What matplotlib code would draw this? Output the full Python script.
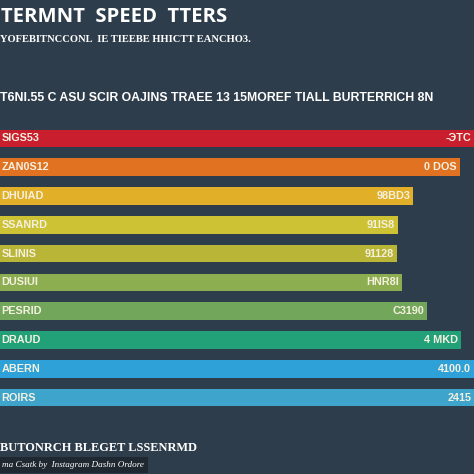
import matplotlib.pyplot as plt

# bar data (values on a 0-100 scale, top to bottom)
names = ["SIGS53", "ZAN0S12", "DHUIAD", "SSANRD", "SLINIS",
         "DUSIUI", "PESRID", "DRAUD", "ABERN", "ROIRS"]
values = [102, 97.0, 87.1, 84.0, 83.8, 84.8, 90.1, 97.3, 102, 102]
value_labels = ["-ЭTC", "0 DOS", "98BD3", "91IS8", "91128",
                "HNR8I", "C3190", "4 MKD", "4100.0", "2415"]
colors = ["#c81e2d", "#e07222", "#e2b028", "#cdc234", "#b9b536",
          "#8cae50", "#72a65a", "#22a078", "#2ea2d8", "#3ea4cc"]

bg = "#2e3d4b"

fig = plt.figure(figsize=(4.74, 4.74), dpi=100)
fig.patch.set_facecolor(bg)

ax = fig.add_axes([0, 0.1308, 1, 0.6076])
ax.set_facecolor(bg)
ypos = list(range(len(values)))
ax.barh(ypos, values, height=0.61, color=colors, edgecolor="none")
for y, n, v, lab in zip(ypos, names, values, value_labels):
    ax.text(0.3, y, n, ha="left", va="center", color="#f4f0e0",
            fontsize=7.8, fontweight="bold", family="Liberation Sans")
    ax.text(min(v, 100) - 0.6, y, lab, ha="right", va="center",
            color="#f4f0e0", fontsize=7.8, fontweight="bold",
            family="Liberation Sans")
ax.set_xlim(0, 100)
ax.set_ylim(9.5, -0.5)
ax.axis("off")

# headings
fig.text(0.002, 1 - 17 / 474, "TERMNT  SPEED  TTERS", ha="left", va="center",
         color="white", fontsize=14.6, fontweight="bold", family="Open Sans")
fig.text(0.0, 1 - 40 / 474, "YOFEBITNCCONL  IE TIEEBE HHICTT EANCHO3.",
         ha="left", va="center", color="white", fontsize=7.6,
         fontweight="bold", family="Liberation Serif")
fig.text(0.0, 1 - 98 / 474,
         "T6NI.55 C ASU SCIR OAJINS TRAEE 13 15MOREF TIALL BURTERRICH 8N",
         ha="left", va="center", color="white", fontsize=8.8,
         fontweight="bold", family="Liberation Sans")

# footer
fig.text(0.0, 1 - 448 / 474, "BUTONRCH BLEGET LSSENRMD", ha="left",
         va="center", color="white", fontsize=8.9, fontweight="bold",
         family="Liberation Serif")
fig.text(0.004, 1 - 465 / 474, "ma Csatk by  Instagram Dashn Ordore",
         ha="left", va="center", color="white", fontsize=6.6, style="italic",
         family="Liberation Serif",
         bbox=dict(facecolor="#1f2831", edgecolor="none", pad=3))

fig.savefig("out.png", dpi=100, facecolor=bg)
